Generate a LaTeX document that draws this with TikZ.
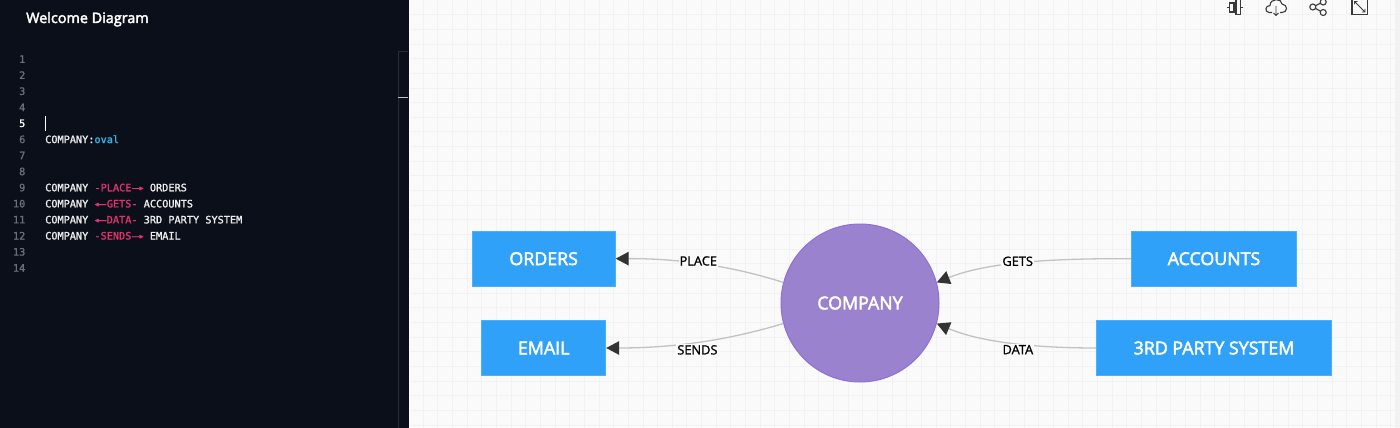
\documentclass[tikz,border=0pt]{standalone}
\usepackage{graphicx}
\usepackage{fontspec}
\setmainfont[FakeBold=1.2]{Open Sans}
\setmonofont[FakeBold=1.5]{DejaVu Sans Mono}
\newfontfamily\boxfont[FakeBold=2.6]{Open Sans}
\usetikzlibrary{arrows.meta}
\definecolor{panelbg}{HTML}{0B0F19}
\definecolor{canvasbg}{HTML}{FAFAFA}
\definecolor{gridcol}{HTML}{F2F2F2}
\definecolor{boxblue}{HTML}{30A1F8}
\definecolor{boxline}{HTML}{4FB0FA}
\definecolor{ovalfill}{HTML}{9B82CF}
\definecolor{ovalline}{HTML}{8E70D8}
\definecolor{edgecol}{HTML}{C2C2C2}
\definecolor{tipcol}{HTML}{333333}
\definecolor{codewhite}{HTML}{EDEDED}
\definecolor{codepink}{HTML}{E0336E}
\definecolor{codecyan}{HTML}{36B4E2}
\definecolor{numgray}{HTML}{6A6E76}
\definecolor{iconcol}{HTML}{3A3A3A}
\newcommand{\ligr}{\scalebox{2}[1]{→}}
\newcommand{\ligl}{\scalebox{2}[1]{←}}
\newcommand{\pink}[1]{\textcolor{codepink}{#1}}
\begin{document}
\begin{tikzpicture}[x=1pt,y=-1pt,
    entity/.style={draw=boxline,fill=boxblue,line width=1pt,text=white,font=\boxfont\fontsize{17.8}{20}\selectfont,minimum height=55pt,inner sep=0pt},
    oval/.style={circle,draw=ovalline,fill=ovalfill,line width=1pt,text=white,font=\boxfont\fontsize{17.8}{20}\selectfont,minimum size=158pt,inner sep=0pt},
    edge/.style={draw=edgecol,line width=1.3pt,-{Triangle[length=13pt,width=13.5pt,color=tipcol]}},
    edgelabel/.style={fill=canvasbg,text=black,font=\fontsize{12.8}{14}\selectfont,inner sep=1pt,text height=9pt,text depth=1.5pt},
    codeline/.style={anchor=base west,inner sep=0pt,text=codewhite,font=\ttfamily\fontsize{10.23}{12}\selectfont},
    linenum/.style={anchor=base east,inner sep=0pt,text=numgray,font=\ttfamily\fontsize{10.23}{12}\selectfont},
    gridline/.style={draw=gridcol,line width=.9pt},
    icon/.style={draw=iconcol,line width=1.1pt}]
\useasboundingbox (0,0) rectangle (1400,428);
\fill[white] (0,0) rectangle (1400,428);
\fill[canvasbg] (410,0) rectangle (1395,428);
\fill[gridcol] (1395,0) rectangle (1400,428);
% grid
\foreach \gx in {1,...,67} \draw[gridline] ({408.4+14.66*\gx},0) -- ({408.4+14.66*\gx},428);
\foreach \gy in {1,...,29} \draw[gridline] (410,{14.66*\gy}) -- (1395,{14.66*\gy});
% editor panel
\fill[panelbg] (0,0) rectangle (409,428);
\draw[color=white!12!panelbg] (398,428) -- (398,51) -- (408,51);
\draw[color=white!75!panelbg,line width=.8pt] (398,97) -- (408,97);
\node[anchor=base west,inner sep=0pt,text=white,font=\boxfont\fontsize{14.4}{16}\selectfont] (title) at (26,23) {Welcome Diagram};
\foreach \n/\ny in {1/59.3,2/75.3,3/91.3,4/107.4,6/139.5,7/155.6,8/171.6,9/187.7,10/203.8,11/219.8,12/235.9,13/252,14/268.1}
    \node[linenum] (num\n) at (25.5,\ny+3.6) {\n};
\node[linenum,text=white] (num5) at (25.5,123.4+3.6) {5};
\draw[white,line width=.8pt] (45.3,116) -- (45.3,131);
\node[codeline] (code6) at (45,143.1) {COMPANY:\textcolor{codecyan}{oval}};
\node[codeline] (code9) at (45,191.3) {COMPANY \pink{-PLACE\ligr} ORDERS};
\node[codeline] (code10) at (45,207.4) {COMPANY \pink{\ligl GETS-} ACCOUNTS};
\node[codeline] (code11) at (45,223.4) {COMPANY \pink{\ligl DATA-} 3RD PARTY SYSTEM};
\node[codeline] (code12) at (45,239.5) {COMPANY \pink{-SENDS\ligr} EMAIL};
% toolbar icons
\draw[icon] (1236,-1) rectangle (1240.5,14.5);
\draw[icon] (1229.5,3) rectangle (1234,12);
\draw[icon] (1226.5,7.5) -- (1229.5,7.5) (1234,7.5) -- (1236,7.5) (1240.5,7.5) -- (1243,7.5);
\draw[icon] (1272,12.5) -- (1269,12.5) .. controls (1264.5,12) and (1265,5.5) .. (1270,5.5) .. controls (1270,-2) and (1282,-2) .. (1282,4) .. controls (1288,4.5) and (1288,12.5) .. (1282,12.5) -- (1280,12.5);
\draw[icon,line width=.8pt] (1276,6) -- (1276,15.5) (1273.5,13) -- (1276,15.5) -- (1278.5,13);
\draw[icon] (1323.2,2) circle (3) (1312.8,7) circle (3) (1323.2,12.5) circle (3);
\draw[icon] (1315.5,5.7) -- (1320.5,3.2) (1315.5,8.4) -- (1320.5,11.2);
\draw[icon] (1352,-1) rectangle (1367.5,14.5);
\draw[icon,line width=.8pt] (1354.5,1.5) -- (1365,12) (1354.5,4.5) -- (1354.5,1.5) -- (1357.5,1.5) (1365,9) -- (1365,12) -- (1362,12);
% diagram
\node[oval] (company) at (860,303) {COMPANY};
\node[entity,minimum width=143pt] (orders) at (543.7,258.7) {ORDERS};
\node[entity,minimum width=124pt] (email) at (543.7,348) {EMAIL};
\node[entity,minimum width=165.5pt] (accounts) at (1214,258.7) {ACCOUNTS};
\node[entity,minimum width=235pt] (thirdparty) at (1214,348) {3RD PARTY SYSTEM};
\draw[edge] (company.165) .. controls (745,270) and (690,258.3) .. (orders.east) node[edgelabel,pos=.58,xshift=-1pt,yshift=2pt] (place) {PLACE};
\draw[edge] (company.195) .. controls (745,335) and (690,348) .. (email.east) node[edgelabel,pos=.58,yshift=-8.5pt] (sends) {SENDS};
\draw[edge] (accounts.west) .. controls (1045,258.3) and (985,263) .. (company.15) node[edgelabel,pos=.5,xshift=-2pt,yshift=1pt] (gets) {GETS};
\draw[edge] (thirdparty.west) .. controls (1045,348) and (985,344) .. (company.345) node[edgelabel,pos=.5,xshift=2.5pt,yshift=-7pt] (data) {DATA};
\end{tikzpicture}
\end{document}
